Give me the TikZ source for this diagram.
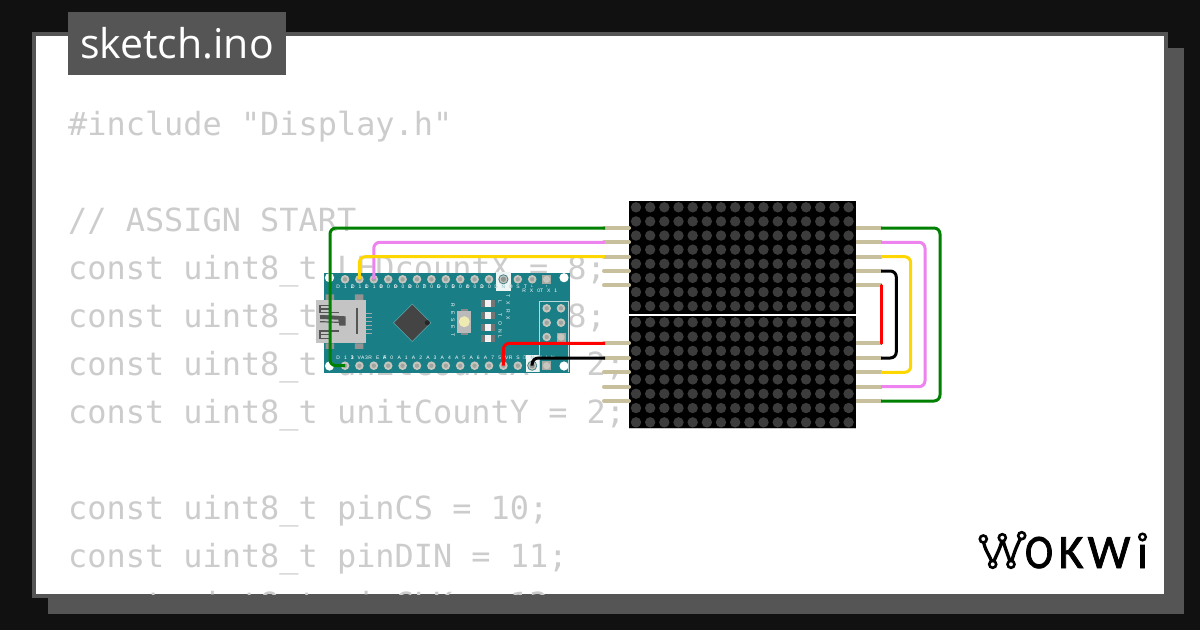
\documentclass[tikz,border=0pt]{standalone}
\usepackage{fontspec}
\usetikzlibrary{calc}
\setmainfont{Liberation Sans}
\newfontfamily\codef{DejaVu Sans Mono}
\newfontfamily\titlef{Open Sans}
\newfontfamily\logof[FakeBold=1.6]{Carlito}
\newfontfamily\logofo[FakeBold=1.6,FakeStretch=0.88]{Carlito}
\newfontfamily\tinyf[LetterSpace=80]{Liberation Sans}
\definecolor{bgdark}{HTML}{111111}
\definecolor{frameg}{HTML}{555555}
\definecolor{codeg}{HTML}{CCCCCC}
\definecolor{teal1}{HTML}{1A7E86}
\definecolor{pinout}{HTML}{C6C6BE}
\definecolor{pinin}{HTML}{8F9593}
\definecolor{hdr}{HTML}{C8C09C}
\definecolor{dot}{HTML}{3C3C3C}
\definecolor{wgreen}{HTML}{008000}
\definecolor{wpink}{HTML}{EE82EE}
\definecolor{wgold}{HTML}{FFD700}
\definecolor{usbg}{HTML}{C4C4C4}
\tikzset{
  x=1pt,y=-1pt,
  codeline/.style={anchor=base west,inner sep=0pt,text=codeg,font=\codef\fontsize{31.9}{32}\selectfont},
  wire/.style={draw=#1,line width=3pt,rounded corners=6pt},
  hpin/.style={draw=hdr,line width=4pt},
  tinylbl/.style={text=white,inner sep=0pt,font=\tinyf\fontsize{5}{5}\selectfont},
  pinhole/.style={circle,fill=pinout,minimum size=8.6pt,inner sep=0pt},
  matrixbox/.style={fill=black,inner sep=0pt,minimum width=226.7pt,anchor=north west},
  logoline/.style={draw=black,line width=3.3pt,line cap=round,line join=round},
  logotext/.style={inner sep=0pt,anchor=base,text=black,font=\logof\fontsize{48}{48}\selectfont},
  usbline/.style={draw=frameg,line width=1.2pt,line join=miter},
}
\begin{document}
\begin{tikzpicture}
\useasboundingbox (0,0) rectangle (1200,630);
\fill[bgdark] (0,0) rectangle (1200,630);
\fill[frameg] (48,48) rectangle (1184,614);
\fill[frameg] (32,32) rectangle (1168,598);
\fill[white] (36,36) rectangle (1164,594);
% code text
\begin{scope}
\clip (36,36) rectangle (1164,594);
\node[codeline] (c1) at (68,135) {\#include "Display.h"};
\node[codeline] (c2) at (68,231) {// ASSIGN START};
\node[codeline] (c3) at (68,279) {const uint8\_t LEDcountX = 8;};
\node[codeline] (c4) at (68,327) {const uint8\_t LEDcountY = 8;};
\node[codeline] (c5) at (68,375) {const uint8\_t unitCountX = 2;};
\node[codeline] (c6) at (68,423) {const uint8\_t unitCountY = 2;};
\node[codeline] (c7) at (68,519) {const uint8\_t pinCS = 10;};
\node[codeline] (c8) at (68,567) {const uint8\_t pinDIN = 11;};
\node[codeline] (c9) at (68,615) {const uint8\_t pinCLK = 13;};
\end{scope}
% tab
\fill[frameg] (68,12) rectangle (286,75);
\node[text=white,inner sep=0pt,font=\titlef\fontsize{41}{41}\selectfont] (title) at (177,43) {sketch.ino};
% board
\node[fill=teal1,inner sep=0pt,minimum width=246.5pt,minimum height=100pt,anchor=north west] (board) at (323.5,272.3) {};
\foreach \p in {(329.5,277.7),(564,277.7),(329.5,366),(564,366)} \fill[white] \p circle (4.6);
% GND highlights
\fill[white!92!teal1] (496,272.3) rectangle (510.7,290.7);
\fill[white!92!teal1] (525.5,355) rectangle (539.5,372.3);
% pin rows
\foreach \i in {0,...,14} {
  \pgfmathsetmacro\px{345+14.4*\i}
  \coordinate (t\i) at (\px,279.3);
  \coordinate (b\i) at (\px,365.7);
}
\foreach \i in {0,...,13} {
  \node[pinhole] (pt\i) at (t\i) {};
  \node[pinhole] (pb\i) at (b\i) {};
  \fill[pinin!70!pinout] (t\i) circle (2.2);
  \fill[pinin!70!pinout] (b\i) circle (2.2);
}
\foreach \c in {t14,b14} {
  \fill[pinin!60!pinout] ($(\c)+(-4.5,-4.5)$) rectangle ($(\c)+(4.5,4.5)$);
  \fill[pinout] (\c) circle (3.6);
}
\foreach \c in {t11,b13} {
  \draw[teal1!60!gray,line width=.8pt] (\c) circle (4.6);
  \fill[pinin] (\c) circle (2.6);
}
% pin labels
\foreach \i/\t in {0/D12,1/D11,2/D10,3/D09,4/D08,5/D07,6/D06,7/D05,8/D04,9/D03,10/D02,12/RST}
  \node[tinylbl] (lt\i) at ($(t\i)+(0,7.4)$) {\t};
\node[tinylbl,text=teal1!50!white] (lt11) at ($(t11)+(0,7.4)$) {GND};
\node[tinylbl] (lt13) at ($(t13)+(-1,11.5)$) {RX0};
\node[tinylbl] (lt14) at ($(t14)+(2,11.5)$) {TX1};
\node[tinylbl,font=\tinyf\fontsize{3.5}{3.5}\selectfont] (ar13) at ($(t13)+(0,7.2)$) {L};
\node[tinylbl,font=\tinyf\fontsize{3.5}{3.5}\selectfont] (ar14) at ($(t14)+(0,7.2)$) {r};
\foreach \i/\t in {0/D13,1/3V3,2/AREF,3/A0,4/A1,5/A2,6/A3,7/A4,8/A5,9/A6,10/A7,11/5V,12/RST,14/VIN}
  \node[tinylbl] (lb\i) at ($(b\i)+(0,-7.8)$) {\t};
\node[tinylbl,text=teal1!50!white] (lb13) at ($(b13)+(0,-7.8)$) {GND};
% ICSP
\draw[white!70!teal1,line width=.7pt] (539.3,372) -- (539.3,301) -- (568.3,301) -- (568.3,372);
\foreach \n/\x/\y in {a/546.7/308.3,b/561/308.3,c/546.7/322.7,d/561/322.7,e/546.7/337} {
  \node[pinhole] (icsp\n) at (\x,\y) {};
  \fill[pinin!70!pinout] (\x,\y) circle (2.2);
}
\fill[pinin!60!pinout] (556.5,332.5) rectangle (565.5,341.5);
\fill[pinout] (561,337) circle (3.6);
% USB
\begin{scope}[shift={(310,265)},x=.3333pt,y=-.3333pt]
\fill[usbg!75!black] (47,88) rectangle (72,105) (135,88) rectangle (160,105)
  (47,235) rectangle (72,252) (135,235) rectangle (160,252);
\foreach \y in {145,157,169,181,193,205} \fill[usbg!85!black] (168,\y-2.5) rectangle (185,\y+2.5);
\fill[usbg] (18,105) rectangle (168,235);
\draw[usbline] (62,122) -- (30,122) -- (30,142) -- (88,142);
\draw[usbline] (30,132) -- (62,132);
\draw[usbline] (30,152) -- (85,155);
\fill[frameg] (30,150) -- (107,154) -- (107,182) -- (88,182) -- (85,164) -- (30,162) -- cycle;
\draw[usbline] (30,170) -- (88,172) ;
\draw[usbline] (88,198) -- (30,198) -- (30,220) -- (62,220);
\draw[usbline] (30,208) -- (62,208);
\draw[frameg,line width=1.3pt] (141,128) -- (141,208);
\end{scope}
% chip
\fill[teal1!70!white] (412.3,303.6) -- (431.4,322.7) -- (412.3,341.8) -- (393.2,322.7) -- cycle;
\fill[frameg!80!black] (412.3,304.6) -- (430.4,322.7) -- (412.3,340.8) -- (394.2,322.7) -- cycle;
\fill[black!85] (427.3,322.7) circle (2.5);
% reset
\fill[usbg!70!black] (460.5,308.5) rectangle (468,334.8);
\fill[usbg!95!black] (457.3,310.7) rectangle (471.3,332.7);
\fill[white!70!yellow!85!gray] (464.3,321.7) circle (5.5);
\node[tinylbl,rotate=-90] (rst) at (452.9,320) {RESET};
% LEDs
\foreach \n/\y in {a/303.3,b/315.7,c/327.3,d/338} {
  \fill[white!90!gray] (481,\y-3.5) rectangle (495,\y+3.5);
  \fill[usbg!60!black] (481,\y-3.5) rectangle (485,\y+3.5);
  \fill[usbg!60!black] (491,\y-3.5) rectangle (495,\y+3.5);
}
\node[tinylbl,rotate=-90] (txrx) at (508,307.5) {TXRX};
\node[tinylbl,rotate=-90] (ledl) at (500,302.3) {L};
\node[tinylbl,rotate=-90] (ledt) at (500,315) {T};
\node[tinylbl,rotate=-90] (ledo) at (500,327) {ON};
\node[tinylbl,rotate=-90] (ledp) at (500,337) {L};
% matrices
\node[matrixbox,minimum height=112.3pt] (m1) at (629,201) {};
\node[matrixbox,minimum height=112pt] (m2) at (629,315.7) {};
\fill[usbg] (629,427.7) rectangle (855.7,428.4);
\foreach \r in {0,...,7}
  \foreach \c in {0,...,15} {
    \fill[dot] (636+14.17*\c,207.3+14.12*\r) circle (5.2);
    \fill[dot] (636+14.17*\c,322.3+14.29*\r) circle (5.2);
  }
% header pins
\foreach \n/\y in {1/228,2/242.3,3/256.7,4/271,5/285.3,6/343.3,7/358,8/372.3,9/386.7,10/401} {
  \coordinate (l\n) at (605,\y);
  \coordinate (r\n) at (881,\y);
  \draw[hpin,line cap=round] (604,\y) -- (629,\y);
  \draw[hpin] (855.7,\y) -- (881.5,\y);
}
% wires
\draw[wire=wgreen] (b0) -- ++(-15,0) |- (l1);
\draw[wire=wpink] (t2) |- (l2);
\draw[wire=wgold] (t1) |- (l3);
\draw[wire=red] (b11) |- (l6);
\draw[wire=black] (b13) |- (l7);
\draw[wire=wgreen] (r1) -- ++(59,0) |- (r10);
\draw[wire=wpink] (r2) -- ++(44,0) |- (r9);
\draw[wire=wgold] (r3) -- ++(29.7,0) |- (r8);
\draw[wire=black] (r4) -- ++(15.3,0) |- (r7);
\draw[wire=red,line cap=round] (r5) -- (r6);
% logo
\draw[logoline] (983.3,539) .. controls (984,550) and (990,555) .. (992.7,564.3)
  .. controls (996,555) and (1001,548) .. (1002.3,538)
  .. controls (1005,548) and (1008,555) .. (1011,564.3)
  .. controls (1013,555) and (1017,545) .. (1021.7,536);
\foreach \p in {(983.3,539),(1002.3,537.7),(1021.7,535.7),(992.7,564.3),(1011,564.3)}
  \draw[black,line width=2.6pt,fill=white] \p circle (3.5);
\node[logotext,font=\logofo\fontsize{48}{48}\selectfont] (logoo) at (1039,568) {O};
\node[logotext] (logok) at (1071,568) {K};
\node[logotext] (logow) at (1109,568) {W};
\node[logotext] (logoi) at (1142.5,568) {ı};
\draw[black,line width=2.4pt,fill=white] (1142.5,537) circle (3.3);
\end{tikzpicture}
\end{document}
